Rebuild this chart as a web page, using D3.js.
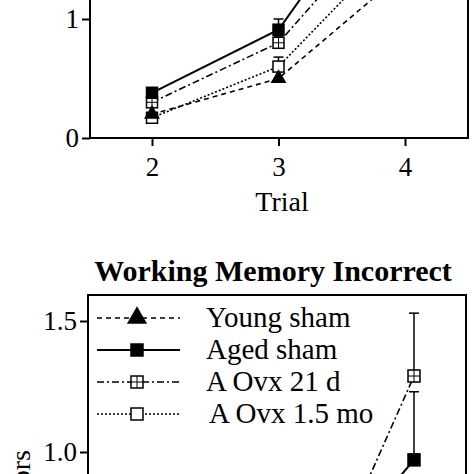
<!DOCTYPE html>
<html><head><meta charset="utf-8">
<script src="https://cdn.jsdelivr.net/npm/d3@7"></script>
<style>body{margin:0;background:#fff}svg{display:block}text{font-family:"Liberation Serif","DejaVu Serif",serif;fill:#000}</style>
</head><body><svg id="c" width="474" height="474"></svg>
<script>
const trials=[2,3,4];
const seriesNames=["Young sham","Aged sham","A Ovx 21 d","A Ovx 1.5 mo"];
const topYoung=[0.2,0.5,1.4], topAged=[0.38,0.91,2.4], topOvx21=[0.3,0.8,2.0], topOvx15=[0.17,0.6,1.7];
const topErr=[[0,0,0],[0.03,0.09,0],[0.02,0.05,0],[0.02,0.08,0]];
const botTrials=[3,4];
const botYoung=[0.3,0.7], botAged=[0.4,0.97], botOvx21=[0.2,1.29], botOvx15=[0.25,0.75];
const botErr=[[0,0],[0,0.26],[0,0.24],[0,0]];
const topTicks=[0,1], botTicks=[1.0,1.5];

const svg=d3.select("#c");
const dashes=["5,4",null,"7,3,2,3","2,2"];
const markers=["tri","sq","sqplus","sqopen"];
function marker(g,type,x,y,s){
  if(type==="tri"){g.append("path").attr("d",d3.symbol(d3.symbolTriangle,s*s*0.9)()).attr("transform",`translate(${x},${y})`).attr("fill","#000");return;}
  g.append("rect").attr("x",x-s/2).attr("y",y-s/2).attr("width",s).attr("height",s)
    .attr("fill",type==="sq"?"#000":"#fff").attr("stroke","#000").attr("stroke-width",1.5);
  if(type==="sqplus"){g.append("line").attr("x1",x-s/2).attr("x2",x+s/2).attr("y1",y).attr("y2",y).attr("stroke","#000");
    g.append("line").attr("x1",x).attr("x2",x).attr("y1",y-s/2).attr("y2",y+s/2).attr("stroke","#000");}
}
// TOP PANEL
const xT=d3.scaleLinear().domain([2,4]).range([152,405]);
const yT=d3.scaleLinear().domain([0,1]).range([138,19]);
svg.append("defs").append("clipPath").attr("id","ct").append("rect").attr("x",90).attr("y",0).attr("width",378).attr("height",138);
const gT=svg.append("g").attr("clip-path","url(#ct)");
const topData=[topYoung,topAged,topOvx21,topOvx15];
topData.forEach((d,i)=>{
  gT.append("path").datum(d).attr("fill","none").attr("stroke","#000").attr("stroke-width",i===1?2:1.6)
    .attr("stroke-dasharray",dashes[i]).attr("d",d3.line().x((v,k)=>xT(trials[k])).y(v=>yT(v)));
});
topData.forEach((d,i)=>d.forEach((v,k)=>{const e=topErr[i][k];if(e>0){
  gT.append("line").attr("x1",xT(trials[k])).attr("x2",xT(trials[k])).attr("y1",yT(v)).attr("y2",yT(v+e)).attr("stroke","#000").attr("stroke-width",1.5);
  gT.append("line").attr("x1",xT(trials[k])-5).attr("x2",xT(trials[k])+5).attr("y1",yT(v+e)).attr("y2",yT(v+e)).attr("stroke","#000").attr("stroke-width",1.5);}}));
[3,2,0,1].forEach(i=>topData[i].forEach((v,k)=>marker(gT,markers[i],xT(trials[k]),yT(v),11)));
svg.append("path").attr("d","M90,0V138H468V0").attr("fill","none").attr("stroke","#000").attr("stroke-width",2);
const ay=svg.append("g").attr("transform","translate(90,0)").call(d3.axisLeft(yT).tickValues(topTicks).tickFormat(d3.format("d")).tickSize(8).tickSizeOuter(0));
const ax=svg.append("g").attr("transform","translate(0,138)").call(d3.axisBottom(xT).tickValues(trials).tickFormat(d3.format("d")).tickSize(8).tickSizeOuter(0));
[ay,ax].forEach(a=>{a.select(".domain").remove();a.selectAll("line").attr("stroke-width",2);a.selectAll("text").attr("font-size",27).attr("font-family","Liberation Serif");});
ax.selectAll("text").attr("dy","1.0em");
svg.append("text").attr("x",282).attr("y",211).attr("text-anchor","middle").attr("font-size",28).text("Trial");

// BOTTOM PANEL
svg.append("text").attr("x",273).attr("y",281).attr("text-anchor","middle").attr("font-size",30).attr("font-weight","bold").text("Working Memory Incorrect");
const xB=d3.scaleLinear().domain([2,4]).range([161,414]);
const yB=d3.scaleLinear().domain([1.0,1.5]).range([452,321]);
svg.select("defs").append("clipPath").attr("id","cb").append("rect").attr("x",88).attr("y",295).attr("width",378).attr("height",200);
const gB=svg.append("g").attr("clip-path","url(#cb)");
const botData=[botYoung,botAged,botOvx21,botOvx15];
botData.forEach((d,i)=>{
  gB.append("path").datum(d).attr("fill","none").attr("stroke","#000").attr("stroke-width",i===1?2:1.6)
    .attr("stroke-dasharray",dashes[i]).attr("d",d3.line().x((v,k)=>xB(botTrials[k])).y(v=>yB(v)));
});
botData.forEach((d,i)=>d.forEach((v,k)=>{const e=botErr[i][k];if(e>0){
  gB.append("line").attr("x1",xB(botTrials[k])).attr("x2",xB(botTrials[k])).attr("y1",yB(v)).attr("y2",yB(v+e)).attr("stroke","#000").attr("stroke-width",1.5);
  gB.append("line").attr("x1",xB(botTrials[k])-5).attr("x2",xB(botTrials[k])+5).attr("y1",yB(v+e)).attr("y2",yB(v+e)).attr("stroke","#000").attr("stroke-width",1.5);}}));
[1,2].forEach(i=>botData[i].forEach((v,k)=>marker(gB,markers[i],xB(botTrials[k]),yB(v),12)));
svg.append("path").attr("d","M88,474V295H466V474").attr("fill","none").attr("stroke","#000").attr("stroke-width",2);
const ayB=svg.append("g").attr("transform","translate(88,0)").call(d3.axisLeft(yB).tickValues(botTicks).tickFormat(d3.format(".1f")).tickSize(8).tickSizeOuter(0));
ayB.select(".domain").remove();ayB.selectAll("line").attr("stroke-width",2);ayB.selectAll("text").attr("font-size",27);
svg.append("text").attr("transform","translate(30,520) rotate(-90)").attr("font-size",28).text("Errors");
// legend
seriesNames.forEach((n,i)=>{
  const y=318+i*32;
  svg.append("line").attr("x1",97).attr("x2",180).attr("y1",y).attr("y2",y).attr("stroke","#000").attr("stroke-width",i===1?2:1.5).attr("stroke-dasharray",dashes[i]);
  marker(svg,markers[i],137,y,i===0?14:12);
  svg.append("text").attr("x",i===3?209:206).attr("y",y+9).attr("font-size",29).text(n);
});
</script></body></html>
